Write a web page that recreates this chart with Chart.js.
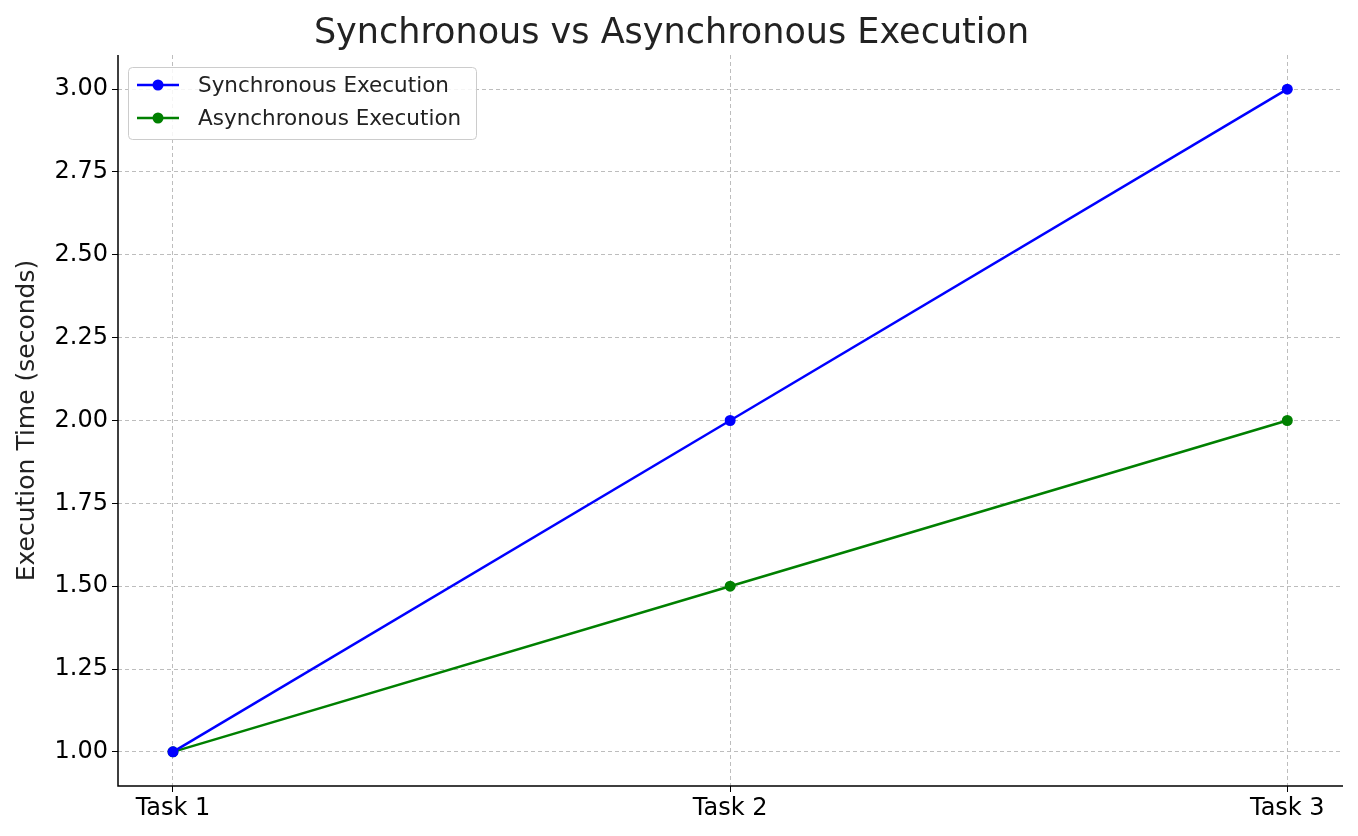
<!DOCTYPE html>
<html>
<head>
<meta charset="utf-8">
<script src="https://cdn.jsdelivr.net/npm/chart.js@4/dist/chart.umd.min.js"></script>
<style>
  html, body { margin: 0; padding: 0; background: #fff; }
  #wrap { width: 1358px; height: 836px; }
</style>
</head>
<body>
<div id="wrap"><canvas id="chart"></canvas></div>
<script>
const taskLabels = ["Task 1", "Task 2", "Task 3"];
const syncTimes = [1.0, 2.0, 3.0];
const asyncTimes = [1.0, 1.5, 2.0];
const yTicks = [1.0, 1.25, 1.5, 1.75, 2.0, 2.25, 2.5, 2.75, 3.0];

const FONT = '"DejaVu Sans", sans-serif';

const toPoints = (values) => values.map((v, i) => ({ x: i, y: v }));

// matplotlib-style left/bottom spines plus boxed legend in the upper left
const framePlugin = {
  id: "frame",
  afterDraw(chart) {
    const { ctx, chartArea } = chart;
    ctx.save();
    ctx.strokeStyle = "#000";
    ctx.lineWidth = 1.5;
    ctx.beginPath();
    ctx.moveTo(chartArea.left, chartArea.top);
    ctx.lineTo(chartArea.left, chartArea.bottom);
    ctx.lineTo(chartArea.right, chartArea.bottom);
    ctx.stroke();

    const x0 = chartArea.left + 10;
    const y0 = chartArea.top + 12;
    ctx.fillStyle = "rgba(255,255,255,0.85)";
    ctx.strokeStyle = "#cccccc";
    ctx.lineWidth = 1;
    ctx.beginPath();
    ctx.roundRect(x0 + 0.5, y0 + 0.5, 348, 72, 4);
    ctx.fill();
    ctx.stroke();

    ctx.font = `21.5px ${FONT}`;
    ctx.textBaseline = "middle";
    chart.data.datasets.forEach((ds, i) => {
      const cy = y0 + 18 + i * 33;
      ctx.strokeStyle = ds.borderColor;
      ctx.lineWidth = 2.5;
      ctx.beginPath();
      ctx.moveTo(x0 + 9, cy);
      ctx.lineTo(x0 + 51, cy);
      ctx.stroke();
      ctx.fillStyle = ds.borderColor;
      ctx.beginPath();
      ctx.arc(x0 + 30, cy, 5.5, 0, Math.PI * 2);
      ctx.fill();
      ctx.fillStyle = "#222";
      ctx.fillText(ds.label, x0 + 70, cy + 1);
    });
    ctx.restore();
  },
};

new Chart(document.getElementById("chart"), {
  type: "line",
  plugins: [framePlugin],
  data: {
    datasets: [
      {
        label: "Synchronous Execution",
        data: toPoints(syncTimes),
        borderColor: "#0000ff",
        backgroundColor: "#0000ff",
        borderWidth: 2.5,
        pointRadius: 5.5,
        pointBorderWidth: 0,
        tension: 0,
      },
      {
        label: "Asynchronous Execution",
        data: toPoints(asyncTimes),
        borderColor: "#008000",
        backgroundColor: "#008000",
        borderWidth: 2.5,
        pointRadius: 5.5,
        pointBorderWidth: 0,
        tension: 0,
      },
    ],
  },
  options: {
    responsive: true,
    maintainAspectRatio: false,
    animation: false,
    layout: { padding: { top: 0, right: 15, bottom: 0, left: 0 } },
    plugins: {
      legend: { display: false },
      tooltip: { enabled: false },
      title: {
        display: true,
        text: "Synchronous vs Asynchronous Execution",
        color: "#222",
        font: { family: FONT, size: 35, weight: "normal" },
        padding: { top: 13, bottom: 0 },
      },
    },
    scales: {
      x: {
        type: "linear",
        min: -0.0987,
        max: 2.1,
        afterBuildTicks(axis) {
          axis.ticks = taskLabels.map((_, i) => ({ value: i }));
        },
        afterFit(axis) { axis.height = 50; },
        ticks: {
          color: "#000",
          font: { family: FONT, size: 24 },
          padding: 2,
          callback: (value) => taskLabels[value] ?? "",
        },
        grid: { color: "#bdbdbd", tickLength: 6, tickColor: "#000" },
        border: { display: false, dash: [4, 3] },
      },
      y: {
        min: 0.897,
        max: 3.103,
        afterBuildTicks(axis) {
          axis.ticks = yTicks.map((v) => ({ value: v }));
        },
        afterFit(axis) { axis.width = 118; },
        title: {
          display: true,
          text: "Execution Time (seconds)",
          color: "#222",
          font: { family: FONT, size: 25 },
          padding: { top: 12, bottom: 6 },
        },
        ticks: {
          color: "#000",
          font: { family: FONT, size: 24 },
          padding: 4,
          callback: (value) => value.toFixed(2),
        },
        grid: { color: "#bdbdbd", tickLength: 6, tickColor: "#000" },
        border: { display: false, dash: [4, 3] },
      },
    },
  },
});
</script>
</body>
</html>
